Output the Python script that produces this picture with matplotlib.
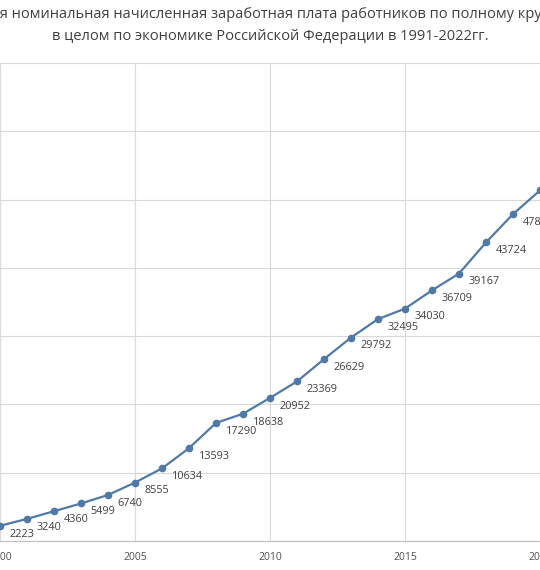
import matplotlib
matplotlib.use("Agg")
import matplotlib.pyplot as plt

years = list(range(2000, 2023))
wages = [2223, 3240, 4360, 5499, 6740, 8555, 10634, 13593, 17290, 18638, 20952,
         23369, 26629, 29792, 32495, 34030, 36709, 39167, 43724, 47867, 51344, 57244, 65338]
xticks = [2000, 2005, 2010, 2015, 2020]

plt.rcParams['font.family'] = ['Open Sans', 'DejaVu Sans']
fig = plt.figure(figsize=(5.4, 5.7), dpi=100)
ax = fig.add_axes([0, 29/570, 1, (541-63)/570])
color = '#5079A8'
ax.plot(years, wages, color=color, lw=1.6, marker='o', ms=4.5)
for x, y in zip(years, wages):
    ax.annotate(str(y), (x, y), xytext=(7, -6), textcoords='offset points',
                fontsize=7.8, color='#404040', ha='left', va='center',
                annotation_clip=True)
ax.set_xlim(2000.64, 2018.76)
ax.set_ylim(0, 70000)
ax.set_xticks(xticks)
ax.set_yticks(range(0, 70001, 10000))
ax.set_yticklabels([])
ax.tick_params(axis='x', length=0, labelsize=7.5, colors='#505050', pad=8)
ax.tick_params(axis='y', length=0)
ax.grid(True, color='#D9D9D9', lw=0.8)
ax.set_axisbelow(True)
for s in ['top', 'right', 'left']:
    ax.spines[s].set_visible(False)
ax.spines['bottom'].set_color('#BFBFBF')
fig.text(0.5, 1 - 14/570, "Среднемесячная номинальная начисленная заработная плата работников по полному кругу организаций",
         ha='center', va='center', fontsize=10.5, color='#404040')
fig.text(0.5, 1 - 36/570, "в целом по экономике Российской Федерации в 1991-2022гг.",
         ha='center', va='center', fontsize=10.5, color='#404040')
fig.savefig("out.png", dpi=100)
